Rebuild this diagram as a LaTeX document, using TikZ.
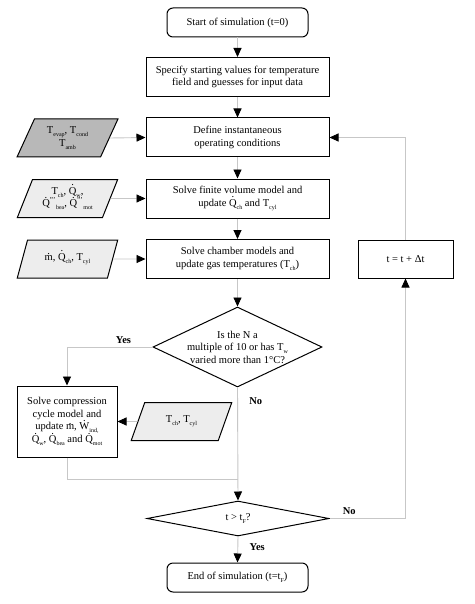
\documentclass[tikz,border=0pt]{standalone}
\usepackage{fontspec}
\setmainfont{Liberation Serif}
\usetikzlibrary{shapes.geometric,arrows.meta}
\definecolor{flowgray}{gray}{0.78}
\definecolor{inputdark}{gray}{0.72}
\definecolor{inputlight}{gray}{0.93}
\newcommand\dt[2][.8em]{\ooalign{#2\cr\hidewidth\raisebox{#1}{.}\hidewidth\cr}}
\newcommand\sub[1]{\raisebox{-.6ex}{\fontsize{6}{6}\selectfont #1}}

\begin{document}
\begin{tikzpicture}[x=1pt,y=-1pt,
    font=\fontsize{10.5}{12.5}\selectfont,
    process/.style={draw,line width=1pt,align=center,minimum width=183pt,minimum height=39pt,inner sep=2pt},
    terminal/.style={draw,line width=1pt,rounded corners=6pt,minimum width=141pt,minimum height=29pt},
    decision/.style={draw,line width=1pt,diamond,inner sep=0pt},
    inputdata/.style={draw,line width=1pt,trapezium,trapezium left angle=65,trapezium right angle=115,trapezium stretches=true,minimum width=101pt,minimum height=38pt,inner sep=1pt,align=center},
    flow/.style={draw=flowgray,line width=0.9pt,-{Triangle[color=black,width=8pt,length=9pt]}},
    plain/.style={draw=flowgray,line width=0.9pt},
    answer/.style={font=\fontsize{10.5}{12}\selectfont\bfseries}]
    \useasboundingbox[fill=white] (0,0) rectangle (474,604);

    \node[terminal] (start) at (237.5,22.5) {Start of simulation (t=0)};
    \node[process] (spec) at (237.5,77) {Specify starting values for temperature\\ field and guesses for input data};
    \node[process] (define) at (237.5,137.5) {Define instantaneous\\ operating conditions};
    \node[process] (fvm) at (237.5,198.5) {Solve finite volume model and\\ update \dt{Q}\sub{ch} and T\sub{cyl}};
    \node[process] (chamber) at (237.5,259) {Solve chamber models and\\ update gas temperatures (T\sub{ch})};
    \node[process,minimum width=95pt,minimum height=38pt] (tstep) at (405.5,259) {t = t + Δt};

    \node[inputdata,fill=inputdark] (ambient) at (67.5,138) {T\sub{evap}, T\sub{cond}\\ T\sub{amb}};
    \node[inputdata,fill=inputlight] (heat) at (67.5,198.5) {T\sub{ch}, \dt{Q}\sub{w},\\ \dt{Q}\textsuperscript{'''}\sub{bea}, \dt{Q}\textsuperscript{'''}\sub{mot}};
    \node[inputdata,fill=inputlight] (flux) at (67.5,259) {\dt[.55em]{m}, \dt{Q}\sub{ch}, T\sub{cyl}};

    \node[decision,minimum width=169pt,minimum height=80pt,
      label={[align=center]center:Is the N a\\ multiple of 10 or has T\sub{w}\\ varied more than 1°C?}] (check) at (237.5,347) {};
    \node[process,minimum width=100pt,minimum height=71pt,inner sep=1pt] (comp) at (67,421.5) {Solve compression\\ cycle model and\\ update \dt[.55em]{m}, \dt{W}\sub{ind,}\\ \dt{Q}\sub{w}, \dt{Q}\sub{bea} and \dt{Q}\sub{mot}};
    \node[inputdata,fill=inputlight] (temps) at (181.5,421.5) {T\sub{ch}, T\sub{cyl}};

    \node[decision,minimum width=182pt,minimum height=35pt,
      label={center:t > t\sub{F}?}] (check2) at (238,518.5) {};
    \node[terminal] (stop) at (237.5,577.5) {End of simulation (t=t\sub{F})};
    \coordinate (merge) at (237.5,479);

    \draw[flow] (start) -- (spec);
    \draw[flow] (spec) -- (define);
    \draw[flow] (define) -- (fvm);
    \draw[flow] (fvm) -- (chamber);
    \draw[flow] (chamber) -- (check);
    \draw[flow] (ambient.east) -- (define.west);
    \draw[flow] (heat.east) -- (fvm.west);
    \draw[flow] (flux.east) -- (chamber.west);
    \draw[flow] (check.west) -| node[answer,pos=0.17,above] (yes1) {Yes} (comp.north);
    \draw[flow] (temps.west) -- (comp.east);
    \draw[flow] (check.south) -- node[answer,pos=0.12,right=8pt] (no1) {No} (check2.north);
    \draw[plain] (comp.south) |- (merge);
    \draw[flow] (check2.east) -| node[answer,pos=0.13,above] (no2) {No} (tstep.south);
    \draw[flow] (tstep.north) |- (define.east);
    \draw[flow] (check2.south) -- node[answer,pos=0.4,right=8pt] (yes2) {Yes} (stop.north);
\end{tikzpicture}
\end{document}
